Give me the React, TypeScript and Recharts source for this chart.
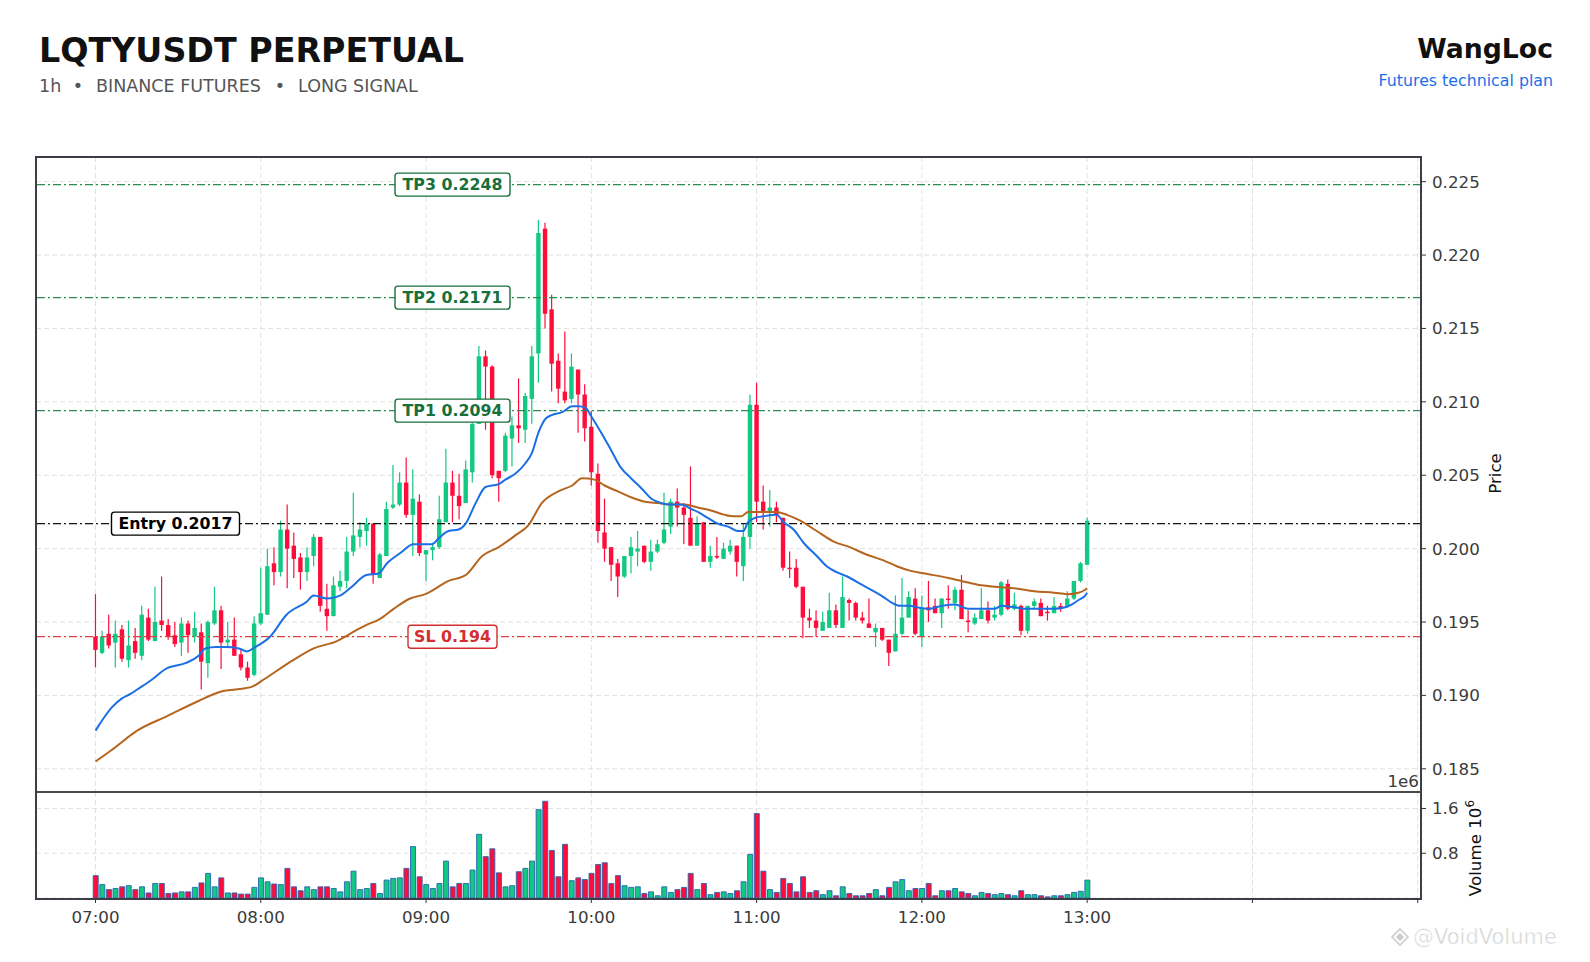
import React from 'react';
import {
  ComposedChart,
  Bar,
  Line,
  XAxis,
  YAxis,
  CartesianGrid,
  ReferenceLine,
  ReferenceDot,
  Cell,
} from 'recharts';

// x axis: one slot per candle, a labelled tick every 25 candles
const TIME_TICKS = [0, 25, 50, 75, 100, 125, 150, 175, 200];
const TIME_LABELS = ['07:00', '08:00', '09:00', '10:00', '11:00', '12:00', '13:00', '', ''];

const PRICE_TICKS = [0.185, 0.19, 0.195, 0.2, 0.205, 0.21, 0.215, 0.22, 0.225];
const VOLUME_TICKS = [0.8, 1.6];

// candles
const OPEN = [
  0.1940, 0.1929, 0.1942, 0.1936, 0.1945, 0.1924, 0.1937, 0.1927, 0.1953, 0.1937,
  0.1951, 0.1948, 0.1941, 0.1936, 0.1949, 0.1940, 0.1943, 0.1922, 0.1949, 0.1958,
  0.1936, 0.1938, 0.1928, 0.1919, 0.1914, 0.1949, 0.1955, 0.1990, 0.1984, 0.2013,
  0.2002, 0.1994, 0.1984, 0.1995, 0.2008, 0.1959, 0.1954, 0.1974, 0.1978, 0.1998,
  0.2008, 0.2012, 0.2017, 0.1980, 0.1995, 0.2028, 0.2030, 0.2045, 0.2023, 0.2032,
  0.1996, 0.1999, 0.2001, 0.2018, 0.2045, 0.2036, 0.2031, 0.2052, 0.2085, 0.2131,
  0.2124, 0.2053, 0.2053, 0.2075, 0.2084, 0.2081, 0.2102, 0.2133, 0.2218, 0.2163,
  0.2128, 0.2107, 0.2102, 0.2122, 0.2105, 0.2083, 0.2051, 0.2011, 0.2001, 0.1990,
  0.1981, 0.1995, 0.1998, 0.2002, 0.1991, 0.1998, 0.2004, 0.2015, 0.2032, 0.2028,
  0.2021, 0.2002, 0.2018, 0.1991, 0.1995, 0.1993, 0.1998, 0.2002, 0.1988, 0.2008,
  0.2098, 0.2032, 0.2025, 0.2028, 0.2021, 0.1987, 0.1987, 0.1974, 0.1953, 0.1951,
  0.1944, 0.1946, 0.1958, 0.1946, 0.1965, 0.1963, 0.1953, 0.1949, 0.1943, 0.1946,
  0.1938, 0.1930, 0.1942, 0.1953, 0.1966, 0.1940, 0.1960, 0.1961, 0.1956, 0.1966,
  0.1963, 0.1972, 0.1951, 0.1949, 0.1952, 0.1958, 0.1953, 0.1955, 0.1976, 0.1959,
  0.1961, 0.1944, 0.1961, 0.1963, 0.1957, 0.1956, 0.1961, 0.1961, 0.1966, 0.1978,
  0.1989,
];
const HIGH = [
  0.1969, 0.1944, 0.1955, 0.1951, 0.1948, 0.1951, 0.1946, 0.1961, 0.1959, 0.1974,
  0.1981, 0.1952, 0.1950, 0.1953, 0.1951, 0.1957, 0.1949, 0.1951, 0.1974, 0.1961,
  0.1950, 0.1953, 0.1932, 0.1923, 0.1954, 0.1987, 0.2000, 0.2001, 0.2019, 0.2030,
  0.2011, 0.1997, 0.2001, 0.2010, 0.2008, 0.1976, 0.1981, 0.1985, 0.2008, 0.2038,
  0.2018, 0.2021, 0.2017, 0.1997, 0.2032, 0.2057, 0.2052, 0.2062, 0.2054, 0.2037,
  0.1999, 0.2004, 0.2036, 0.2068, 0.2053, 0.2051, 0.2060, 0.2086, 0.2138, 0.2135,
  0.2125, 0.2053, 0.2079, 0.2090, 0.2116, 0.2106, 0.2138, 0.2224, 0.2222, 0.2173,
  0.2133, 0.2148, 0.2133, 0.2122, 0.2112, 0.2094, 0.2058, 0.2034, 0.2001, 0.1993,
  0.1995, 0.2008, 0.2012, 0.2002, 0.2006, 0.2006, 0.2038, 0.2034, 0.2041, 0.2031,
  0.2056, 0.2022, 0.2018, 0.2002, 0.2008, 0.2004, 0.2006, 0.2002, 0.2017, 0.2105,
  0.2113, 0.2043, 0.2040, 0.2032, 0.2021, 0.1998, 0.1993, 0.1974, 0.1959, 0.1958,
  0.1957, 0.1970, 0.1962, 0.1981, 0.1966, 0.1964, 0.1957, 0.1966, 0.1949, 0.1946,
  0.1938, 0.1968, 0.1980, 0.1971, 0.1973, 0.1968, 0.1978, 0.1966, 0.1966, 0.1975,
  0.1974, 0.1982, 0.1958, 0.1956, 0.1973, 0.1964, 0.1961, 0.1978, 0.1979, 0.1970,
  0.1962, 0.1961, 0.1966, 0.1966, 0.1961, 0.1967, 0.1963, 0.1971, 0.1978, 0.1991,
  0.2021,
];
const LOW = [
  0.1919, 0.1928, 0.1932, 0.1919, 0.1923, 0.1919, 0.1925, 0.1924, 0.1937, 0.1937,
  0.1944, 0.1938, 0.1933, 0.1927, 0.1929, 0.1936, 0.1904, 0.1912, 0.1948, 0.1918,
  0.1933, 0.1927, 0.1917, 0.1910, 0.1913, 0.1948, 0.1955, 0.1975, 0.1981, 0.1973,
  0.1980, 0.1972, 0.1978, 0.1988, 0.1957, 0.1944, 0.1954, 0.1971, 0.1973, 0.1995,
  0.2001, 0.2002, 0.1976, 0.1980, 0.1995, 0.2027, 0.2029, 0.2021, 0.1995, 0.1995,
  0.1978, 0.1992, 0.2000, 0.2018, 0.2018, 0.2020, 0.2031, 0.2045, 0.2085, 0.2081,
  0.2048, 0.2032, 0.2052, 0.2056, 0.2072, 0.2072, 0.2085, 0.2113, 0.2150, 0.2107,
  0.2099, 0.2099, 0.2099, 0.2079, 0.2073, 0.2043, 0.2004, 0.1991, 0.1978, 0.1967,
  0.1980, 0.1983, 0.1988, 0.1990, 0.1985, 0.1997, 0.2003, 0.2010, 0.2015, 0.2003,
  0.2002, 0.2002, 0.1991, 0.1987, 0.1993, 0.1993, 0.1996, 0.1981, 0.1978, 0.2000,
  0.2018, 0.2013, 0.2015, 0.2018, 0.1985, 0.1980, 0.1973, 0.1939, 0.1946, 0.1940,
  0.1944, 0.1946, 0.1946, 0.1946, 0.1951, 0.1951, 0.1949, 0.1946, 0.1933, 0.1937,
  0.1920, 0.1930, 0.1941, 0.1953, 0.1941, 0.1933, 0.1950, 0.1956, 0.1946, 0.1959,
  0.1958, 0.1952, 0.1943, 0.1948, 0.1952, 0.1949, 0.1951, 0.1954, 0.1958, 0.1958,
  0.1941, 0.1942, 0.1959, 0.1954, 0.1951, 0.1956, 0.1957, 0.1960, 0.1965, 0.1977,
  0.1989,
];
const CLOSE = [
  0.1931, 0.1940, 0.1934, 0.1942, 0.1925, 0.1934, 0.1929, 0.1955, 0.1938, 0.1950,
  0.1948, 0.1940, 0.1935, 0.1949, 0.1941, 0.1946, 0.1923, 0.1950, 0.1958, 0.1936,
  0.1938, 0.1927, 0.1919, 0.1912, 0.1949, 0.1956, 0.1988, 0.1984, 0.2013, 0.2000,
  0.1993, 0.1984, 0.1994, 0.2008, 0.1961, 0.1954, 0.1975, 0.1978, 0.1998, 0.2009,
  0.2013, 0.2017, 0.1982, 0.1996, 0.2027, 0.2030, 0.2045, 0.2023, 0.2034, 0.1997,
  0.1999, 0.2001, 0.2020, 0.2045, 0.2036, 0.2029, 0.2054, 0.2085, 0.2131, 0.2124,
  0.2050, 0.2048, 0.2077, 0.2084, 0.2082, 0.2104, 0.2131, 0.2215, 0.2160, 0.2126,
  0.2109, 0.2101, 0.2124, 0.2105, 0.2082, 0.2052, 0.2012, 0.2000, 0.1989, 0.1981,
  0.1995, 0.2001, 0.2000, 0.1991, 0.1998, 0.2003, 0.2013, 0.2032, 0.2028, 0.2023,
  0.2002, 0.2017, 0.1991, 0.1995, 0.1994, 0.2000, 0.2002, 0.1991, 0.2008, 0.2098,
  0.2032, 0.2025, 0.2028, 0.2023, 0.1987, 0.1986, 0.1974, 0.1953, 0.1951, 0.1946,
  0.1950, 0.1958, 0.1948, 0.1967, 0.1963, 0.1953, 0.1951, 0.1946, 0.1946, 0.1938,
  0.1929, 0.1942, 0.1953, 0.1967, 0.1942, 0.1959, 0.1958, 0.1956, 0.1966, 0.1965,
  0.1972, 0.1952, 0.1950, 0.1953, 0.1958, 0.1951, 0.1955, 0.1977, 0.1959, 0.1962,
  0.1944, 0.1961, 0.1964, 0.1954, 0.1956, 0.1961, 0.1959, 0.1966, 0.1978, 0.1990,
  0.2019,
];
// volume in millions
const VOLUME = [
  0.40, 0.24, 0.15, 0.17, 0.20, 0.22, 0.15, 0.20, 0.09, 0.26,
  0.26, 0.08, 0.09, 0.11, 0.11, 0.19, 0.27, 0.44, 0.20, 0.36,
  0.09, 0.09, 0.07, 0.07, 0.19, 0.36, 0.29, 0.25, 0.24, 0.53,
  0.20, 0.13, 0.20, 0.15, 0.20, 0.20, 0.17, 0.11, 0.29, 0.48,
  0.15, 0.17, 0.26, 0.08, 0.32, 0.35, 0.36, 0.53, 0.92, 0.38,
  0.24, 0.17, 0.26, 0.66, 0.20, 0.26, 0.26, 0.50, 1.14, 0.74,
  0.88, 0.45, 0.20, 0.22, 0.47, 0.53, 0.66, 1.58, 1.73, 0.85,
  0.38, 0.96, 0.31, 0.36, 0.33, 0.44, 0.60, 0.63, 0.26, 0.40,
  0.22, 0.19, 0.20, 0.08, 0.11, 0.04, 0.20, 0.10, 0.15, 0.19,
  0.44, 0.15, 0.26, 0.06, 0.10, 0.11, 0.08, 0.13, 0.29, 0.78,
  1.51, 0.48, 0.15, 0.10, 0.35, 0.26, 0.11, 0.38, 0.10, 0.13,
  0.06, 0.13, 0.04, 0.20, 0.08, 0.04, 0.04, 0.08, 0.15, 0.04,
  0.19, 0.29, 0.33, 0.13, 0.17, 0.17, 0.26, 0.04, 0.13, 0.13,
  0.17, 0.11, 0.08, 0.04, 0.10, 0.08, 0.06, 0.08, 0.06, 0.04,
  0.13, 0.06, 0.06, 0.04, 0.02, 0.04, 0.04, 0.06, 0.10, 0.12,
  0.32,
];

// moving averages, [candle index, value] as traced on the picture
const EMA_FAST = [
  [0, 0.1876], [2.5, 0.1892], [4, 0.1898], [5.3, 0.1901], [6.3, 0.1904], [8.6, 0.1911],
  [10.6, 0.1918], [13.6, 0.1922], [15.6, 0.1927], [16.6, 0.1932], [18.2, 0.1933],
  [19.7, 0.1933], [21.7, 0.1932], [22.9, 0.1930], [24.2, 0.1933], [26.4, 0.1940],
  [28.9, 0.1955], [32, 0.1964], [33, 0.1968], [35, 0.1966], [37, 0.1968], [38.5, 0.1973],
  [41, 0.1982], [42.8, 0.1983], [44.1, 0.1990], [46.1, 0.1997], [48.1, 0.2003],
  [50.9, 0.2003], [51.9, 0.2007], [53.4, 0.2012], [54.9, 0.2013], [56, 0.2017],
  [57.5, 0.2031], [59, 0.2042], [61, 0.2044], [62, 0.2047], [63.5, 0.2051], [65, 0.2058],
  [66, 0.2065], [67, 0.2079], [68, 0.2088], [69, 0.2091], [70.6, 0.2093], [72.1, 0.2097],
  [73.1, 0.2097], [74.1, 0.2096], [75, 0.2090], [76.5, 0.2079], [78, 0.2067],
  [79.5, 0.2055], [81, 0.2048], [82.6, 0.2041], [84.1, 0.2034], [85.6, 0.2031],
  [87.1, 0.2030], [88.6, 0.2030], [90.1, 0.2027], [91.1, 0.2025], [92.6, 0.2021],
  [94.1, 0.2017], [95.7, 0.2015], [97.2, 0.2012], [98, 0.2012], [98.7, 0.2018],
  [99.8, 0.2021], [101, 0.2022], [103, 0.2023], [104.1, 0.2018], [105.6, 0.2013],
  [107.1, 0.2004], [109.1, 0.1995], [110.6, 0.1988], [112.1, 0.1984], [113.7, 0.1981],
  [115.7, 0.1976], [117.7, 0.1971], [119.2, 0.1967], [120.5, 0.1963], [121.7, 0.1961],
  [123.2, 0.1961], [124.3, 0.1960], [126, 0.1959], [128, 0.1961], [130, 0.1962],
  [132, 0.1959], [134, 0.1959], [136, 0.1959], [137, 0.1961], [139, 0.1960],
  [141, 0.1959], [143, 0.1959], [145, 0.1959], [146.7, 0.1960], [147.7, 0.1962],
  [148.7, 0.1965], [149.7, 0.1968], [150, 0.1970],
];
const EMA_SLOW = [
  [0, 0.1855], [2.5, 0.1863], [6.3, 0.1876], [10.9, 0.1886], [15.5, 0.1896],
  [19.3, 0.1903], [21.2, 0.1904], [23.7, 0.1906], [25.5, 0.1911], [29.9, 0.1924],
  [33, 0.1932], [36.5, 0.1937], [38.5, 0.1942], [41, 0.1948], [43, 0.1952],
  [45.1, 0.1959], [47.6, 0.1966], [49.9, 0.1969], [53.4, 0.1978], [56, 0.1982],
  [58.5, 0.1995], [61, 0.2001], [63.5, 0.2009], [65.5, 0.2016], [67.5, 0.2031],
  [70, 0.2039], [72.1, 0.2043], [73.6, 0.2048], [75.5, 0.2047], [77, 0.2043],
  [79, 0.2039], [81, 0.2035], [83.1, 0.2032], [85.1, 0.2031], [87.1, 0.2030],
  [89.1, 0.2030], [91.1, 0.2028], [93.1, 0.2026], [95.2, 0.2023], [96.7, 0.2022],
  [97.7, 0.2022], [98.7, 0.2025], [101, 0.2025], [103, 0.2025], [104.6, 0.2023],
  [106.6, 0.2019], [109.1, 0.2012], [111.6, 0.2005], [114.1, 0.2001], [116.6, 0.1996],
  [119.2, 0.1992], [121.2, 0.1988], [123.2, 0.1985], [125.5, 0.1983], [129, 0.1980],
  [131, 0.1978], [134, 0.1975], [136, 0.1974], [139, 0.1973], [142, 0.1971],
  [145, 0.1970], [147, 0.1969], [148.7, 0.1970], [149.7, 0.1972], [150, 0.1973],
];

// trade plan levels
const LEVEL_NAMES = ['TP3', 'TP2', 'TP1', 'Entry', 'SL'];
const LEVEL_PRICES = [0.2248, 0.2171, 0.2094, 0.2017, 0.194];

const GREEN = '#12c882';
const RED = '#fe0d3a';
const FONT = 'DejaVu Sans';
const AXIS_TEXT = { fontFamily: FONT, fontSize: 16.7, fill: '#3b3b3b' };

const LEVEL_STYLE = {
  TP3: { line: '#2e8a50', text: '#17703b', at: 54, w: 115 },
  TP2: { line: '#2e8a50', text: '#17703b', at: 54, w: 115 },
  TP1: { line: '#2e8a50', text: '#17703b', at: 54, w: 115 },
  Entry: { line: '#111111', text: '#000000', at: 12.1, w: 128 },
  SL: { line: '#d94040', text: '#d32f2f', at: 54, w: 89 },
};

const rows = OPEN.map((o, i) => ({
  i,
  open: o,
  high: HIGH[i],
  low: LOW[i],
  close: CLOSE[i],
  volume: VOLUME[i],
}));
const fastPts = EMA_FAST.map(([i, v]) => ({ i, v }));
const slowPts = EMA_SLOW.map(([i, v]) => ({ i, v }));

const X_DOMAIN = [-9, 200.5];
const PRICE_DOMAIN = [0.18342, 0.22668];
const VOL_DOMAIN = [0, 1.896];

const Candle = (props: any) => {
  const { x, y, width, height, payload } = props;
  if (!payload || !isFinite(y) || !isFinite(height)) return null;
  const { open, close, high, low } = payload;
  const k = high > low ? height / (high - low) : 0;
  const yOf = (p: number) => y + (high - p) * k;
  const color = close >= open ? GREEN : RED;
  const cx = x + width / 2;
  const top = yOf(Math.max(open, close));
  const bot = yOf(Math.min(open, close));
  return (
    <g>
      <line x1={cx} x2={cx} y1={y} y2={y + height} stroke={color} strokeWidth={1.2} />
      <rect x={cx - 2.2} y={top} width={4.4} height={Math.max(bot - top, 1)} fill={color} />
    </g>
  );
};

const LevelTag = ({ cx, cy, name, price }: any) => {
  const s = LEVEL_STYLE[name];
  if (cx == null || cy == null) return null;
  return (
    <g>
      <rect
        x={cx - s.w / 2}
        y={cy - 11.5}
        width={s.w}
        height={23}
        rx={3}
        fill="#ffffff"
        stroke={s.text}
        strokeWidth={1.4}
      />
      <text
        x={cx}
        y={cy + 5.6}
        textAnchor="middle"
        fontFamily={FONT}
        fontWeight="bold"
        fontSize={15.8}
        fill={s.text}
      >
        {`${name} ${price}`}
      </text>
    </g>
  );
};

const BinanceMark = ({ x, y }: { x: number; y: number }) => (
  <g transform={`translate(${x},${y})`} fill="none" stroke="#c4c4c4" strokeWidth={1.6}>
    <path d="M0,-8 L8,0 L0,8 L-8,0 Z" />
    <path d="M0,-3 L3,0 L0,3 L-3,0 Z" fill="#c4c4c4" />
  </g>
);

export default function App() {
  return (
    <div
      style={{
        position: 'absolute',
        left: 0,
        top: 0,
        width: 1590,
        height: 962,
        background: '#ffffff',
        fontFamily: FONT,
        overflow: 'hidden',
      }}
    >
      {/* price panel */}
      <div style={{ position: 'absolute', left: 0, top: 0 }}>
        <ComposedChart
          width={1590}
          height={800}
          data={rows}
          margin={{ top: 157, right: 69, bottom: 8, left: 36 }}
        >
          <CartesianGrid stroke="#e1e1e1" strokeDasharray="5 3" />
          <XAxis
            dataKey="i"
            type="number"
            domain={X_DOMAIN}
            ticks={TIME_TICKS}
            allowDataOverflow
            hide
          />
          <YAxis
            orientation="right"
            type="number"
            domain={PRICE_DOMAIN}
            ticks={PRICE_TICKS}
            allowDataOverflow
            width={100}
            axisLine={false}
            tickLine={{ stroke: '#333' }}
            tickSize={5}
            tickMargin={6}
            tick={{ ...AXIS_TEXT, textAnchor: 'start' }}
            tickFormatter={(v) => v.toFixed(3)}
          />
          {LEVEL_NAMES.map((name, k) => (
            <ReferenceLine
              key={name}
              y={LEVEL_PRICES[k]}
              stroke={LEVEL_STYLE[name].line}
              strokeWidth={1.3}
              strokeDasharray="8 3 2 3"
            />
          ))}
          <Bar
            dataKey={(d: any) => [d.low, d.high]}
            barSize={6}
            shape={<Candle />}
            isAnimationActive={false}
          />
          <Line
            data={slowPts}
            dataKey="v"
            type="monotone"
            stroke="#b5651d"
            strokeWidth={2}
            dot={false}
            isAnimationActive={false}
          />
          <Line
            data={fastPts}
            dataKey="v"
            type="monotone"
            stroke="#1a6fe6"
            strokeWidth={2}
            dot={false}
            isAnimationActive={false}
          />
          {LEVEL_NAMES.map((name, k) => (
            <ReferenceDot
              key={`tag-${name}`}
              x={LEVEL_STYLE[name].at}
              y={LEVEL_PRICES[k]}
              r={1}
              shape={(p: any) => <LevelTag cx={p.cx} cy={p.cy} name={name} price={LEVEL_PRICES[k]} />}
            />
          ))}
        </ComposedChart>
      </div>

      {/* volume panel */}
      <div style={{ position: 'absolute', left: 0, top: 780 }}>
        <ComposedChart
          width={1590}
          height={182}
          data={rows}
          margin={{ top: 12, right: 69, bottom: 34, left: 36 }}
        >
          <CartesianGrid stroke="#e1e1e1" strokeDasharray="5 3" />
          <XAxis
            dataKey="i"
            type="number"
            domain={X_DOMAIN}
            ticks={TIME_TICKS}
            allowDataOverflow
            height={30}
            axisLine={false}
            tickLine={{ stroke: '#333' }}
            tickSize={5}
            tickMargin={8}
            tick={AXIS_TEXT}
            tickFormatter={(v) => TIME_LABELS[TIME_TICKS.indexOf(v)] ?? ''}
          />
          <YAxis
            orientation="right"
            type="number"
            domain={VOL_DOMAIN}
            ticks={VOLUME_TICKS}
            allowDataOverflow
            width={100}
            axisLine={false}
            tickLine={{ stroke: '#333' }}
            tickSize={5}
            tickMargin={6}
            tick={{ ...AXIS_TEXT, textAnchor: 'start' }}
            tickFormatter={(v) => v.toFixed(1)}
          />
          <Bar
            dataKey="volume"
            barSize={5}
            stroke="#2466b3"
            strokeWidth={0.9}
            isAnimationActive={false}
          >
            {rows.map((r) => (
              <Cell key={r.i} fill={r.close >= r.open ? GREEN : RED} />
            ))}
          </Bar>
        </ComposedChart>
      </div>

      {/* panel frames */}
      <div
        style={{
          position: 'absolute',
          left: 34.75,
          top: 155.75,
          width: 1387.5,
          height: 744,
          border: '2.5px solid #3b3e46',
          boxSizing: 'border-box',
          pointerEvents: 'none',
        }}
      />
      <div
        style={{
          position: 'absolute',
          left: 36,
          top: 791.3,
          width: 1385,
          height: 1.5,
          background: '#4a4a4a',
          pointerEvents: 'none',
        }}
      />

      {/* titles, axis names, watermark */}
      <svg
        width={1590}
        height={962}
        style={{ position: 'absolute', left: 0, top: 0, pointerEvents: 'none' }}
      >
        <text x={39} y={61.7} fontFamily={FONT} fontWeight="bold" fontSize={33.3} fill="#111">
          LQTYUSDT PERPETUAL
        </text>
        <g fontFamily={FONT} fontSize={17.5} fill="#555">
          <text x={39} y={92.3}>1h</text>
          <text x={78} y={92.3} textAnchor="middle">•</text>
          <text x={96} y={92.3}>BINANCE FUTURES</text>
          <text x={280} y={92.3} textAnchor="middle">•</text>
          <text x={298} y={92.3}>LONG SIGNAL</text>
        </g>
        <text x={1553} y={58} textAnchor="end" fontFamily={FONT} fontWeight="bold" fontSize={26.7} fill="#111">
          WangLoc
        </text>
        <text x={1553} y={86} textAnchor="end" fontFamily={FONT} fontSize={15.8} fill="#1a6fe8">
          Futures technical plan
        </text>

        <text
          transform="translate(1501,473.5) rotate(-90)"
          textAnchor="middle"
          fontFamily={FONT}
          fontSize={16.7}
          fill="#111"
        >
          Price
        </text>
        <text x={1419} y={787} textAnchor="end" {...AXIS_TEXT}>
          1e6
        </text>
        <text
          transform="translate(1481,848) rotate(-90)"
          textAnchor="middle"
          fontFamily={FONT}
          fontSize={16.7}
          fill="#111"
        >
          Volume{'  '}10
          <tspan dy={-7} fontSize={12}>
            6
          </tspan>
        </text>

        <g opacity={0.85}>
          <BinanceMark x={1400} y={937} />
          <text x={1413} y={944} fontFamily={FONT} fontSize={21} fill="#c8c8c8" stroke="#ffffff" strokeWidth={0.6}>
            @VoidVolume
          </text>
        </g>
      </svg>
    </div>
  );
}
